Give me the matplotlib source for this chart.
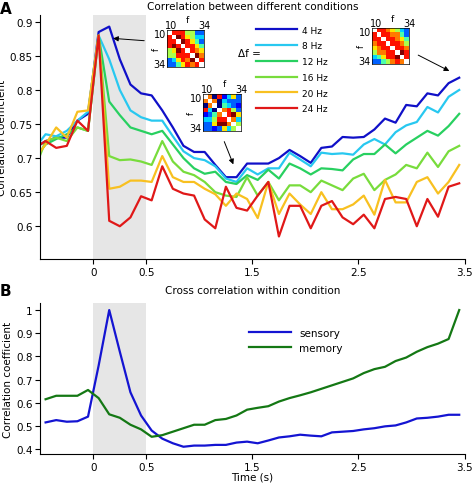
import numpy as np
import matplotlib
matplotlib.use("Agg")
import matplotlib.pyplot as plt

# panel A series: 41 samples, first at -0.5 then -0.45 .. 3.45 step 0.1
tA = np.concatenate([[-0.5], np.round(np.arange(-0.45, 3.46, 0.1), 2)])
# panel B series: 40 samples -0.45 .. 3.45
tB = np.round(np.arange(-0.45, 3.46, 0.1), 2)

hz4 = [0.72,0.725,0.73,0.73,0.755,0.765,0.885,0.893,0.845,0.808,0.795,0.792,0.77,0.745,0.718,0.709,0.709,0.69,0.672,0.672,
       0.692,0.692,0.692,0.70,0.712,0.703,0.693,0.715,0.717,0.731,0.73,0.731,0.742,0.758,0.752,0.778,0.776,0.795,0.792,0.81,0.818]
hz8 = [0.725,0.735,0.732,0.74,0.755,0.768,0.88,0.845,0.80,0.77,0.76,0.755,0.755,0.732,0.71,0.70,0.697,0.688,0.67,0.665,
       0.685,0.676,0.685,0.685,0.708,0.698,0.688,0.708,0.706,0.707,0.705,0.72,0.728,0.72,0.738,0.748,0.753,0.775,0.767,0.79,0.80]
hz12 = [0.71,0.72,0.728,0.735,0.745,0.74,0.88,0.783,0.763,0.745,0.74,0.735,0.74,0.72,0.70,0.685,0.677,0.68,0.665,0.662,
        0.675,0.668,0.683,0.67,0.692,0.685,0.676,0.685,0.684,0.682,0.698,0.706,0.706,0.72,0.707,0.72,0.73,0.74,0.733,0.747,0.765]
hz16 = [0.705,0.725,0.73,0.725,0.745,0.74,0.88,0.703,0.697,0.698,0.695,0.69,0.725,0.695,0.68,0.675,0.665,0.65,0.645,0.643,
        0.672,0.645,0.665,0.638,0.66,0.66,0.65,0.667,0.66,0.653,0.67,0.677,0.653,0.668,0.676,0.69,0.685,0.708,0.687,0.71,0.718]
hz20 = [0.71,0.72,0.745,0.73,0.768,0.77,0.88,0.655,0.658,0.667,0.667,0.665,0.703,0.672,0.665,0.665,0.655,0.647,0.63,0.648,
        0.64,0.612,0.665,0.618,0.648,0.632,0.618,0.65,0.625,0.625,0.632,0.645,0.617,0.668,0.635,0.635,0.665,0.672,0.648,0.665,0.69]
hz24 = [0.72,0.725,0.715,0.718,0.755,0.74,0.88,0.608,0.60,0.613,0.644,0.638,0.688,0.655,0.648,0.645,0.61,0.597,0.658,0.627,
        0.623,0.645,0.665,0.585,0.63,0.63,0.597,0.63,0.637,0.613,0.603,0.617,0.597,0.64,0.643,0.64,0.60,0.64,0.614,0.658,0.663]
series_labels = ["4 Hz", "8 Hz", "12 Hz", "16 Hz", "20 Hz", "24 Hz"]
series_colors = ["#1010c8", "#28c8f0", "#28d060", "#78dc3c", "#f8c020", "#e01818"]

sensory = [0.515,0.525,0.518,0.52,0.54,0.76,1.0,0.82,0.645,0.545,0.48,0.445,0.425,0.41,0.415,0.415,0.418,0.418,0.428,0.432,
           0.425,0.437,0.45,0.455,0.462,0.458,0.455,0.472,0.475,0.478,0.485,0.49,0.498,0.502,0.515,0.532,0.535,0.54,0.548,0.548]
memory = [0.615,0.63,0.63,0.63,0.655,0.62,0.55,0.535,0.505,0.485,0.453,0.46,0.475,0.49,0.505,0.505,0.525,0.53,0.545,0.57,
          0.578,0.585,0.605,0.62,0.632,0.645,0.66,0.675,0.69,0.705,0.728,0.745,0.755,0.78,0.795,0.82,0.84,0.855,0.875,1.0]

# small correlation matrices shown as insets (0-9 jet levels, x = diagonal)
mat1 = ["x8885522", "8x986533", "88x98642", "898x8864", "5698x876", "55888x97", "236879x8", "2246878x"]
mat2 = ["x7081362", "7x703222", "07x04321", "830x7852", "1247x896", "33588x73", "226997x5", "2212635x"]
mat3 = ["x8876532", "8x887742", "88x88764", "788x8875", "6788x887", "57788x98", "346889x8", "2245787x"]

plt.rcParams["font.family"] = "DejaVu Sans"
plt.rcParams["font.size"] = 7.5
fig = plt.figure(figsize=(4.74, 4.85), dpi=100)

# ---- panel A
ax = fig.add_axes([0.085, 0.464, 0.895, 0.503])
ax.axvspan(0, 0.5, color="#e6e6e6", lw=0)
for vals, lab, c in zip([hz4, hz8, hz12, hz16, hz20, hz24], series_labels, series_colors):
    ax.plot(tA, vals, color=c, lw=1.6, label=lab)
ax.set_xlim(-0.5, 3.5)
ax.set_ylim(0.552, 0.91)
ax.set_xticks([0, 0.5, 1.5, 2.5, 3.5])
ax.set_xticklabels(["0", "0.5", "1.5", "2.5", "3.5"])
ax.set_yticks([0.6, 0.65, 0.7, 0.75, 0.8, 0.85, 0.9])
ax.set_yticklabels(["0.6", "0.65", "0.7", "0.75", "0.8", "0.85", "0.9"])
ax.tick_params(pad=2)
for s in ["top", "right"]:
    ax.spines[s].set_visible(False)
ax.set_ylabel("Correlation coefficient", labelpad=2)
ax.set_title("Correlation between different conditions", fontsize=7.5, pad=4)
ax.legend(loc="upper left", bbox_to_anchor=(0.49, 0.99), frameon=False, fontsize=6.5,
          handlelength=4.5, labelspacing=0.75, handletextpad=0.6)
ax.text(0.465, 0.83, "Δf =", transform=ax.transAxes, fontsize=7.5)
fig.text(0.0, 0.972, "A", fontsize=11, fontweight="bold")

ax.annotate("", xy=(0.16, 0.876), xytext=(0.506, 0.872), arrowprops=dict(arrowstyle="-|>", color="k", lw=0.7))
ax.annotate("", xy=(1.33, 0.687), xytext=(1.225, 0.728), arrowprops=dict(arrowstyle="-|>", color="k", lw=0.7))
ax.annotate("", xy=(3.38, 0.826), xytext=(3.04, 0.853), arrowprops=dict(arrowstyle="-|>", color="k", lw=0.7))

def inset(mat, x0, y0, w, h):
    arr = np.array([[np.nan if ch == "x" else int(ch) for ch in row] for row in mat], dtype=float)
    iax = fig.add_axes([x0 / 474, 1 - (y0 + h) / 485, w / 474, h / 485])
    cmap = plt.get_cmap("jet").copy()
    cmap.set_bad("white")
    iax.imshow(np.ma.masked_invalid(arr), cmap=cmap, vmin=0, vmax=9, aspect="auto", interpolation="nearest")
    iax.set_xticks([]); iax.set_yticks([])
    for s in iax.spines.values():
        s.set_linewidth(0.5)
    iax.text(0.1, 1.0, "10", transform=iax.transAxes, ha="center", va="bottom", fontsize=7)
    iax.text(1.0, 1.0, "34", transform=iax.transAxes, ha="center", va="bottom", fontsize=7)
    iax.text(0.55, 1.15, "f", transform=iax.transAxes, ha="center", va="bottom", fontsize=6.5)
    iax.text(-0.03, 0.9, "10", transform=iax.transAxes, ha="right", va="center", fontsize=7)
    iax.text(-0.3, 0.5, "f", transform=iax.transAxes, ha="center", va="center", fontsize=6, rotation=90)
    iax.text(-0.03, 0.08, "34", transform=iax.transAxes, ha="right", va="center", fontsize=7)

inset(mat1, 167, 31, 37, 37)
inset(mat2, 203, 95, 38, 37)
inset(mat3, 372, 29, 37, 36)

# ---- panel B
bx = fig.add_axes([0.085, 0.062, 0.895, 0.311])
bx.axvspan(0, 0.5, color="#e6e6e6", lw=0)
bx.plot(tB, sensory, color="#1414d2", lw=1.6, label="sensory")
bx.plot(tB, memory, color="#147814", lw=1.6, label="memory")
bx.set_xlim(-0.5, 3.5)
bx.set_ylim(0.379, 1.03)
bx.set_xticks([0, 0.5, 1.5, 2.5, 3.5])
bx.set_xticklabels(["0", "0.5", "1.5", "2.5", "3.5"])
bx.set_yticks([0.4, 0.5, 0.6, 0.7, 0.8, 0.9, 1.0])
bx.set_yticklabels(["0.4", "0.5", "0.6", "0.7", "0.8", "0.9", "1"])
bx.tick_params(pad=2)
for s in ["top", "right"]:
    bx.spines[s].set_visible(False)
bx.set_ylabel("Correlation coefficient", labelpad=2)
bx.set_xlabel("Time (s)", labelpad=0)
bx.set_title("Cross correlation within condition", fontsize=7.5, pad=7)
bx.legend(loc="upper left", bbox_to_anchor=(0.47, 0.9), frameon=False, fontsize=7.5, handlelength=4)
fig.text(0.0, 0.39, "B", fontsize=11, fontweight="bold")

fig.savefig("out.png", dpi=100)
